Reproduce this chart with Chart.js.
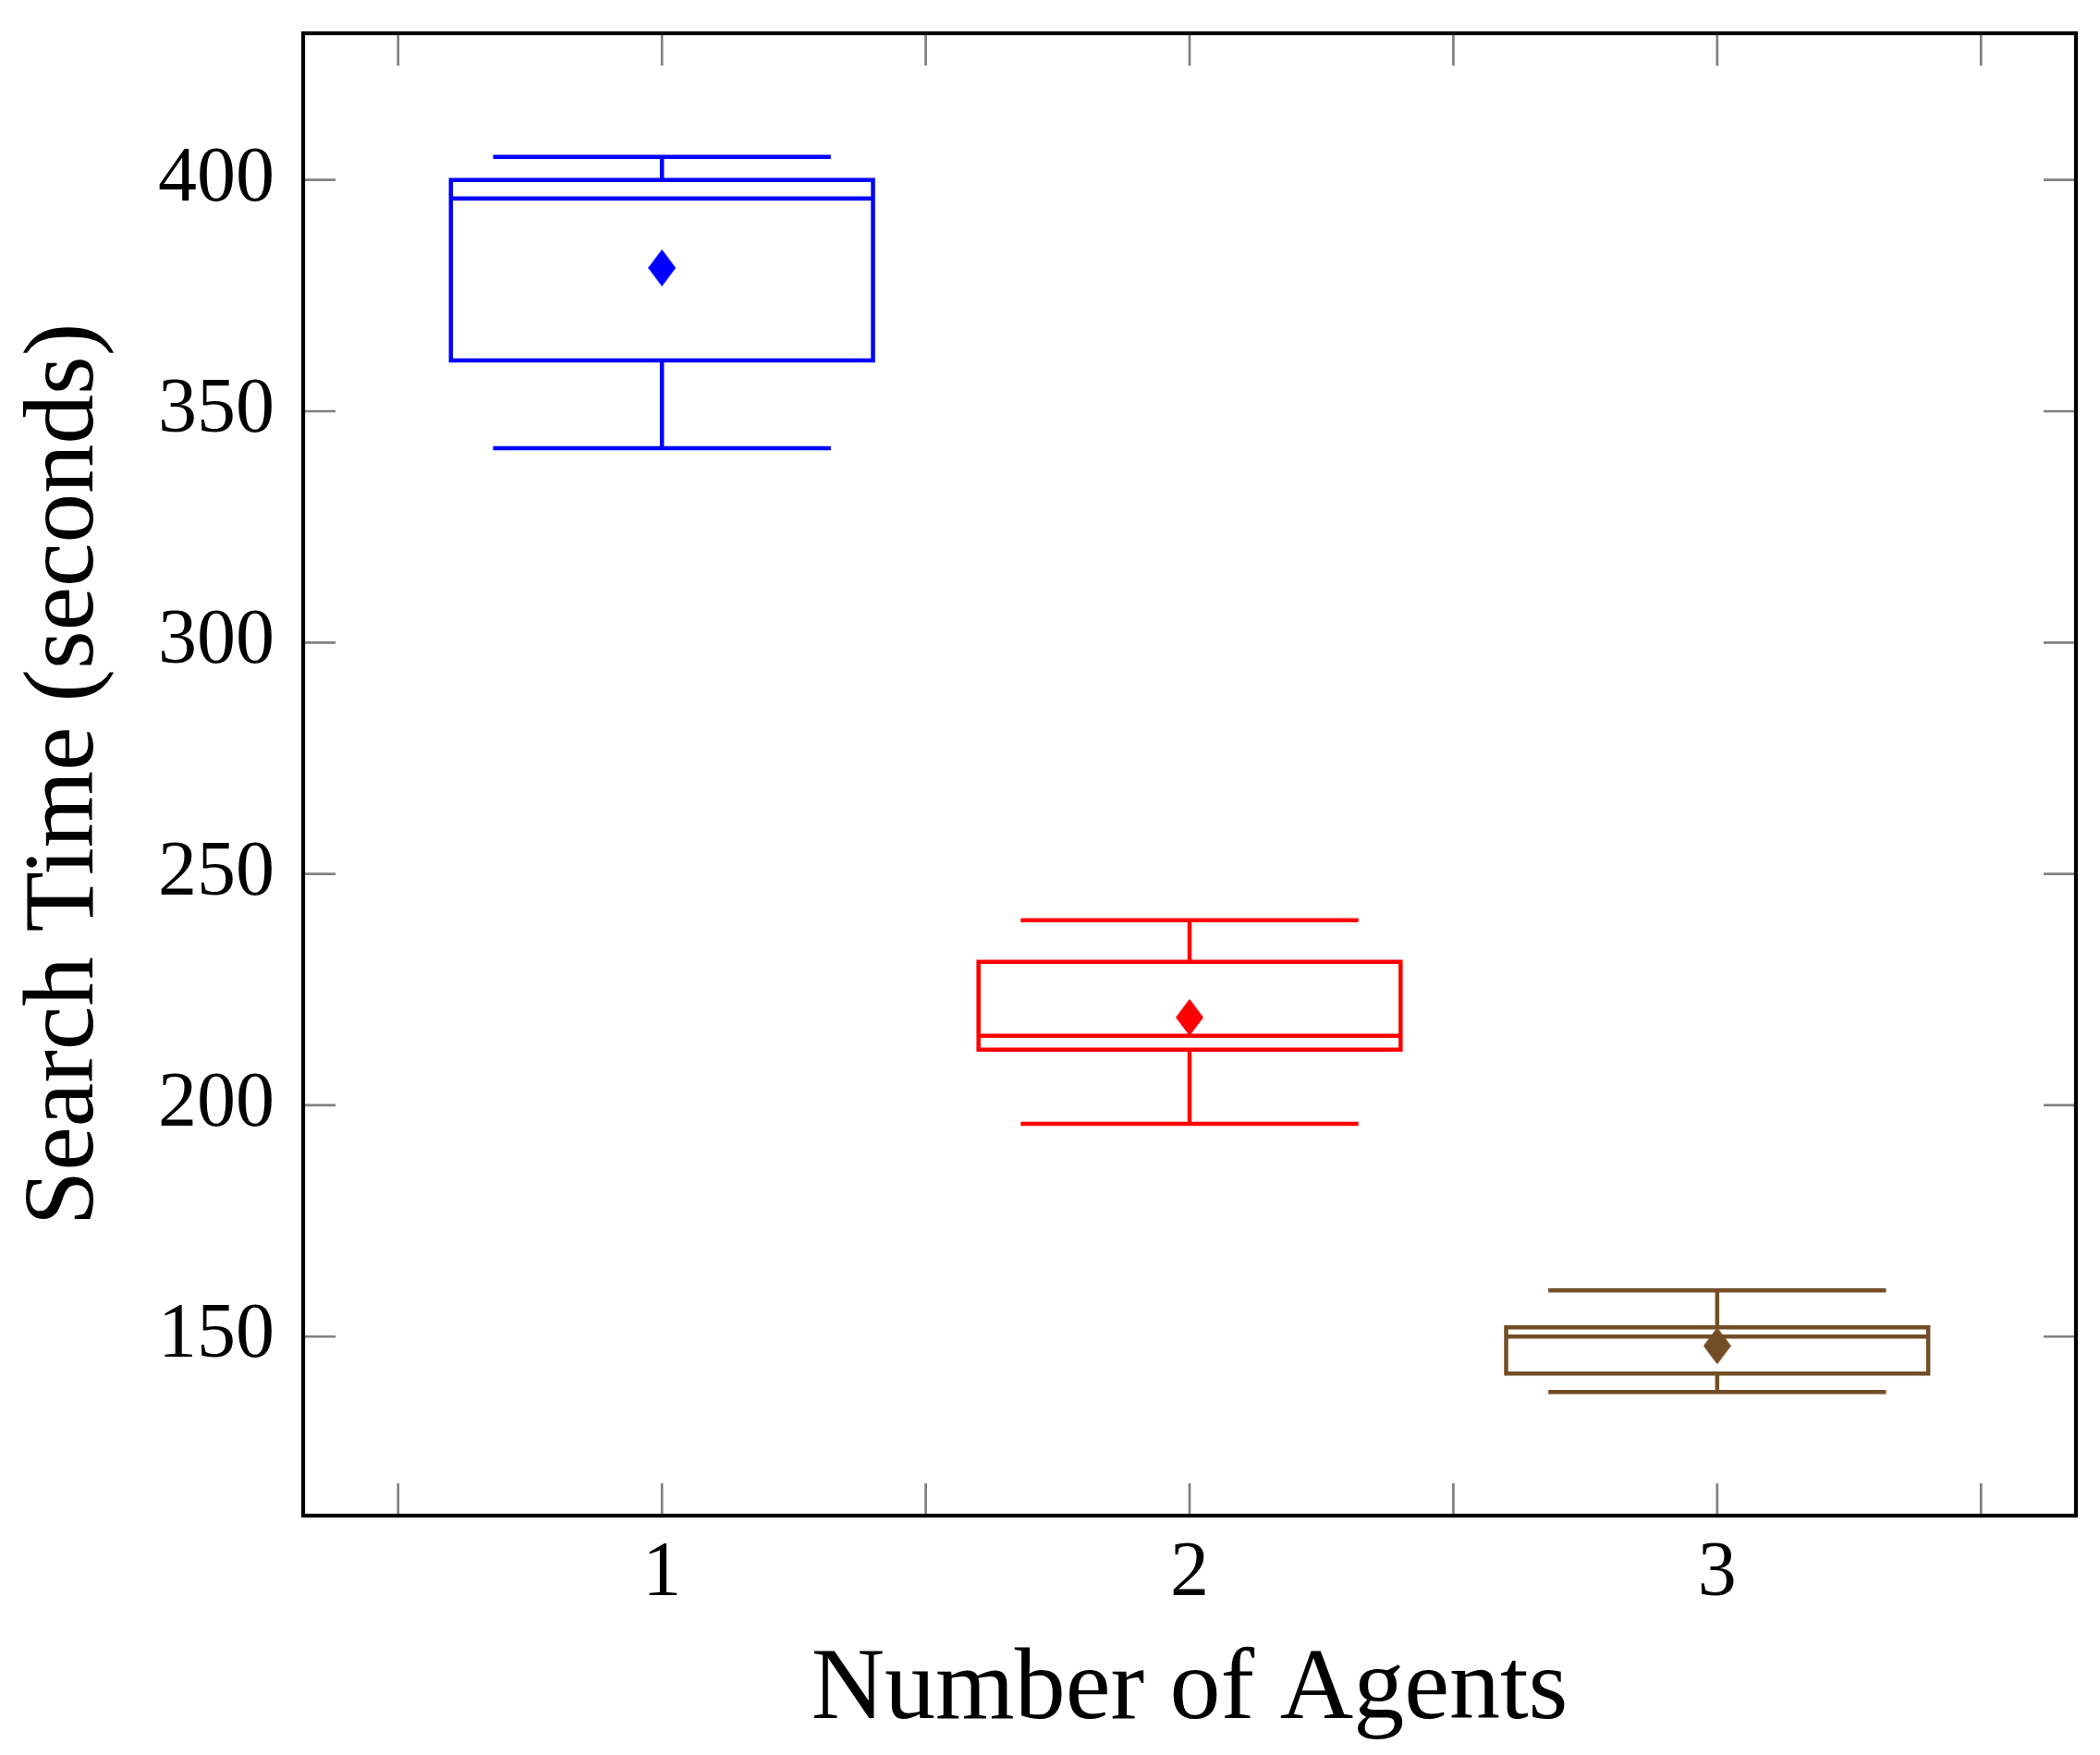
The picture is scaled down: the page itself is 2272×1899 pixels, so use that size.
<!DOCTYPE html>
<html>
<head>
<meta charset="utf-8">
<script src="https://cdn.jsdelivr.net/npm/chart.js@4.4.1/dist/chart.umd.min.js"></script>
<style>
  html, body { margin: 0; padding: 0; background: #fff; }
  #wrap { width: 2272px; height: 1899px; position: relative; }
</style>
</head>
<body>
<div id="wrap"><canvas id="chart"></canvas></div>
<script>
// Search time per number of agents (box plot)
const agents = [1, 2, 3];
const upperWhisker = [405, 240, 160];
const upperQuartile = [400, 231, 152];
const medians = [396, 215, 150];
const lowerQuartile = [361, 212, 142];
const lowerWhisker = [342, 196, 138];
const means = [381, 219, 148];

const xTicks = [0.5, 1, 1.5, 2, 2.5, 3, 3.5];
const xLabels = [1, 2, 3];
const yTicks = [150, 200, 250, 300, 350, 400];

const colors = ['#0000ff', '#ff0000', '#734d26'];

const BOX_HALF = 0.4;
const CAP_HALF = 0.32;
const FONT = '"Liberation Serif", "DejaVu Serif", serif';

// pgfplots-style 10% enlargement of the data range
const yLo = Math.min(...lowerWhisker), yHi = Math.max(...upperWhisker);
const xLo = agents[0] - BOX_HALF, xHi = agents[agents.length - 1] + BOX_HALF;
const yPad = (yHi - yLo) * 0.1, xPad = (xHi - xLo) * 0.1;

function boxPath(i) {
  const x = agents[i];
  const l = x - BOX_HALF, r = x + BOX_HALF;
  const gap = { x: x, y: null };
  return [
    { x: x, y: lowerQuartile[i] }, { x: r, y: lowerQuartile[i] },
    { x: r, y: upperQuartile[i] }, { x: l, y: upperQuartile[i] },
    { x: l, y: lowerQuartile[i] }, { x: x, y: lowerQuartile[i] }, gap,
    { x: l, y: medians[i] }, { x: r, y: medians[i] }, gap,
    { x: x, y: upperQuartile[i] }, { x: x, y: upperWhisker[i] }, gap,
    { x: x - CAP_HALF, y: upperWhisker[i] }, { x: x + CAP_HALF, y: upperWhisker[i] }, gap,
    { x: x, y: lowerQuartile[i] }, { x: x, y: lowerWhisker[i] }, gap,
    { x: x - CAP_HALF, y: lowerWhisker[i] }, { x: x + CAP_HALF, y: lowerWhisker[i] }
  ];
}

function diamond(color) {
  const c = document.createElement('canvas');
  c.width = 30; c.height = 40;
  const g = c.getContext('2d');
  g.fillStyle = color;
  g.beginPath();
  g.moveTo(15, 0); g.lineTo(30, 20); g.lineTo(15, 40); g.lineTo(0, 20);
  g.closePath();
  g.fill();
  return c;
}

const datasets = [];
agents.forEach((a, i) => {
  datasets.push({
    type: 'scatter',
    data: [{ x: a, y: means[i] }],
    pointStyle: diamond(colors[i]),
    pointRadius: 15,
    order: 0
  });
  datasets.push({
    type: 'line',
    data: boxPath(i),
    borderColor: colors[i],
    borderWidth: 4.5,
    borderJoinStyle: 'miter',
    pointRadius: 0,
    spanGaps: false,
    tension: 0,
    fill: false,
    order: 1
  });
});

// frame + inward ticks like pgfplots
const frameTicks = {
  id: 'frameTicks',
  beforeDatasetsDraw(chart) {
    const { ctx, chartArea: a, scales: { x, y } } = chart;
    const len = 35;
    ctx.save();
    ctx.strokeStyle = '#808080';
    ctx.lineWidth = 2.7;
    ctx.beginPath();
    xTicks.forEach(v => {
      const px = x.getPixelForValue(v);
      ctx.moveTo(px, a.bottom); ctx.lineTo(px, a.bottom - len);
      ctx.moveTo(px, a.top); ctx.lineTo(px, a.top + len);
    });
    yTicks.forEach(v => {
      const py = y.getPixelForValue(v);
      ctx.moveTo(a.left, py); ctx.lineTo(a.left + len, py);
      ctx.moveTo(a.right, py); ctx.lineTo(a.right - len, py);
    });
    ctx.stroke();
    ctx.restore();
  },
  afterDraw(chart) {
    const { ctx, chartArea: a } = chart;
    ctx.save();
    ctx.strokeStyle = '#000';
    ctx.lineWidth = 4.2;
    ctx.strokeRect(a.left, a.top, a.right - a.left, a.bottom - a.top);
    ctx.restore();
  }
};

new Chart(document.getElementById('chart'), {
  data: { datasets },
  options: {
    responsive: true,
    maintainAspectRatio: false,
    devicePixelRatio: 1,
    animation: false,
    layout: { padding: { top: 36, right: 26, left: 0, bottom: 0 } },
    plugins: { legend: { display: false }, tooltip: { enabled: false } },
    scales: {
      x: {
        type: 'linear',
        min: xLo - xPad,
        max: xHi + xPad,
        afterBuildTicks: s => { s.ticks = xTicks.map(v => ({ value: v })); },
        afterFit: s => { s.height = 259; s.paddingLeft = 0; s.paddingRight = 0; },
        grid: { display: false, drawTicks: false },
        border: { display: false },
        ticks: {
          autoSkip: false,
          maxRotation: 0,
          padding: 14,
          color: '#000',
          font: { family: FONT, size: 84 },
          callback: v => xLabels.includes(v) ? String(v) : ''
        },
        title: {
          display: true,
          text: 'Number of Agents',
          color: '#000',
          font: { family: FONT, size: 110, lineHeight: 1.15 },
          padding: { top: 0, bottom: 6 }
        }
      },
      y: {
        type: 'linear',
        min: yLo - yPad,
        max: yHi + yPad,
        afterBuildTicks: s => { s.ticks = yTicks.map(v => ({ value: v })); },
        afterFit: s => { s.width = 328; s.paddingTop = 0; s.paddingBottom = 0; },
        grid: { display: false, drawTicks: false },
        border: { display: false },
        ticks: {
          padding: 31,
          color: '#000',
          font: { family: FONT, size: 84 }
        },
        title: {
          display: true,
          text: 'Search Time (seconds)',
          color: '#000',
          font: { family: FONT, size: 107, lineHeight: 1.15 },
          padding: { top: 10, bottom: 0 }
        }
      }
    }
  },
  plugins: [frameTicks]
});
</script>
</body>
</html>
